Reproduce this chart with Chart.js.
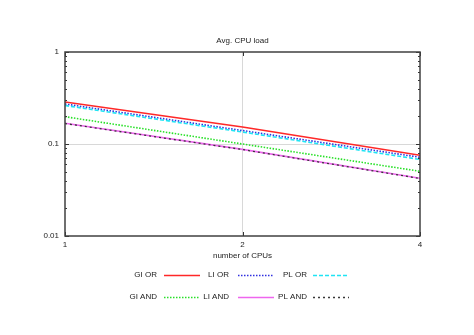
<!DOCTYPE html>
<html>
<head>
<meta charset="utf-8">
<script src="https://cdn.jsdelivr.net/npm/chart.js@4/dist/chart.umd.min.js"></script>
<style>
  html, body { margin: 0; padding: 0; background: #fff; }
  #wrap { width: 474px; height: 335px; }
</style>
</head>
<body>
<div id="wrap"><canvas id="c" width="474" height="335"></canvas></div>
<script>
// Average CPU load versus number of CPUs (log-log)
const cpus = [1, 2, 4];
const giOr  = [0.286, 0.153, 0.0754];
const liOr  = [0.272, 0.140, 0.0717];
const plOr  = [0.262, 0.135, 0.0679];
const giAnd = [0.198, 0.100, 0.0505];
const liAnd = [0.168, 0.0875, 0.0424];
const plAnd = [0.167, 0.0870, 0.0422];

const xTicks = [1, 2, 4];
const yTicks = [0.01, 0.1, 1];

const FONT = 'Liberation Sans, Arial, Helvetica, sans-serif';
const TXT = '#222';

function pts(vals) { return cpus.map((x, i) => ({ x: x, y: vals[i] })); }

const series = [
  { label: 'GI OR',  data: giOr,  color: '#ff2828', dash: [],       width: 1.6 },
  { label: 'LI OR',  data: liOr,  color: '#3030e0', dash: [1.5, 1.5], width: 1.6 },
  { label: 'PL OR',  data: plOr,  color: '#20e4f4', dash: [4, 2],   width: 1.6 },
  { label: 'GI AND', data: giAnd, color: '#28e028', dash: [1.5, 1.5], width: 1.6 },
  { label: 'LI AND', data: liAnd, color: '#ee66ee', dash: [],       width: 1.6 },
  { label: 'PL AND', data: plAnd, color: '#383838', dash: [2, 3],   width: 1.3 }
];

const datasets = series.map((s, i) => ({
  label: s.label,
  data: pts(s.data),
  borderColor: s.color,
  backgroundColor: s.color,
  borderWidth: s.width,
  borderDash: s.dash,
  pointRadius: 0,
  fill: false,
  tension: 0,
  order: series.length - i
}));

// Frame, inner ticks, title, axis label and gnuplot-style key
const decor = {
  id: 'decor',
  afterDatasetsDraw(chart) {
    const ctx = chart.ctx;
    const a = chart.chartArea;
    const xs = chart.scales.x, ys = chart.scales.y;
    ctx.save();
    // minor/major ticks on the inside of the frame
    ctx.strokeStyle = '#333';
    ctx.lineWidth = 1;
    ctx.setLineDash([]);
    for (let d = 0.01; d < 1; d *= 10) {
      for (let m = 1; m <= 10; m++) {
        const v = d * m;
        const y = Math.round(ys.getPixelForValue(v)) + 0.5;
        const len = (m === 1 || m === 10) ? 4 : 2;
        ctx.beginPath();
        ctx.moveTo(a.left, y); ctx.lineTo(a.left + len, y);
        ctx.moveTo(a.right, y); ctx.lineTo(a.right - len, y);
        ctx.stroke();
      }
    }
    xTicks.forEach(v => {
      const x = Math.round(xs.getPixelForValue(v)) + 0.5;
      ctx.beginPath();
      ctx.moveTo(x, a.top); ctx.lineTo(x, a.top + 4);
      ctx.moveTo(x, a.bottom); ctx.lineTo(x, a.bottom - 4);
      ctx.stroke();
    });
    // frame
    ctx.strokeStyle = '#404040';
    ctx.lineWidth = 1.5;
    ctx.strokeRect(a.left, a.top, a.right - a.left, a.bottom - a.top);

    // title and x-axis label
    ctx.fillStyle = TXT;
    ctx.font = '8px ' + FONT;
    ctx.textAlign = 'center';
    ctx.textBaseline = 'middle';
    const cx = (a.left + a.right) / 2;
    ctx.fillText('Avg. CPU load', cx, 41);
    ctx.fillText('number of CPUs', cx, 256);

    // key: label right-aligned, then sample line
    const rows = [275, 297];
    const textEnds = [157, 229, 307];
    const lineStarts = [164, 238, 313];
    const lineLen = 36;
    chart.data.datasets.forEach((ds, i) => {
      const r = Math.floor(i / 3), c = i % 3;
      const y = rows[r];
      ctx.fillStyle = TXT;
      ctx.textAlign = 'right';
      ctx.fillText(ds.label, textEnds[c], y);
      ctx.strokeStyle = ds.borderColor;
      ctx.lineWidth = ds.borderWidth;
      ctx.setLineDash(ds.borderDash);
      ctx.beginPath();
      ctx.moveTo(lineStarts[c], y + 0.5);
      ctx.lineTo(lineStarts[c] + lineLen, y + 0.5);
      ctx.stroke();
    });
    ctx.restore();
  }
};

new Chart(document.getElementById('c'), {
  type: 'line',
  data: { datasets: datasets },
  plugins: [decor],
  options: {
    responsive: false,
    animation: false,
    devicePixelRatio: 1,
    layout: { padding: { left: 0, top: 52, right: 54, bottom: 0 } },
    plugins: {
      legend: { display: false },
      title: { display: false },
      tooltip: { enabled: false }
    },
    scales: {
      x: {
        type: 'logarithmic',
        min: 1, max: 4,
        afterBuildTicks(s) { s.ticks = xTicks.map(v => ({ value: v })); },
        afterFit(s) { s.height = 335 - 236; },
        border: { display: false },
        grid: {
          drawTicks: false,
          color: ctx => (ctx.tick && ctx.tick.value === 2) ? '#d8d8d8' : 'rgba(0,0,0,0)',
          lineWidth: 1
        },
        ticks: {
          autoSkip: false,
          maxRotation: 0,
          padding: 4,
          color: TXT,
          font: { family: FONT, size: 8 },
          callback: v => String(v)
        }
      },
      y: {
        type: 'logarithmic',
        min: 0.01, max: 1,
        afterBuildTicks(s) { s.ticks = yTicks.map(v => ({ value: v })); },
        afterFit(s) { s.width = 65; },
        border: { display: false },
        grid: {
          drawTicks: false,
          color: ctx => (ctx.tick && ctx.tick.value === 0.1) ? '#d8d8d8' : 'rgba(0,0,0,0)',
          lineWidth: 1
        },
        ticks: {
          autoSkip: false,
          padding: 6,
          color: TXT,
          font: { family: FONT, size: 8 },
          callback: v => String(v)
        }
      }
    }
  }
});
</script>
</body>
</html>
